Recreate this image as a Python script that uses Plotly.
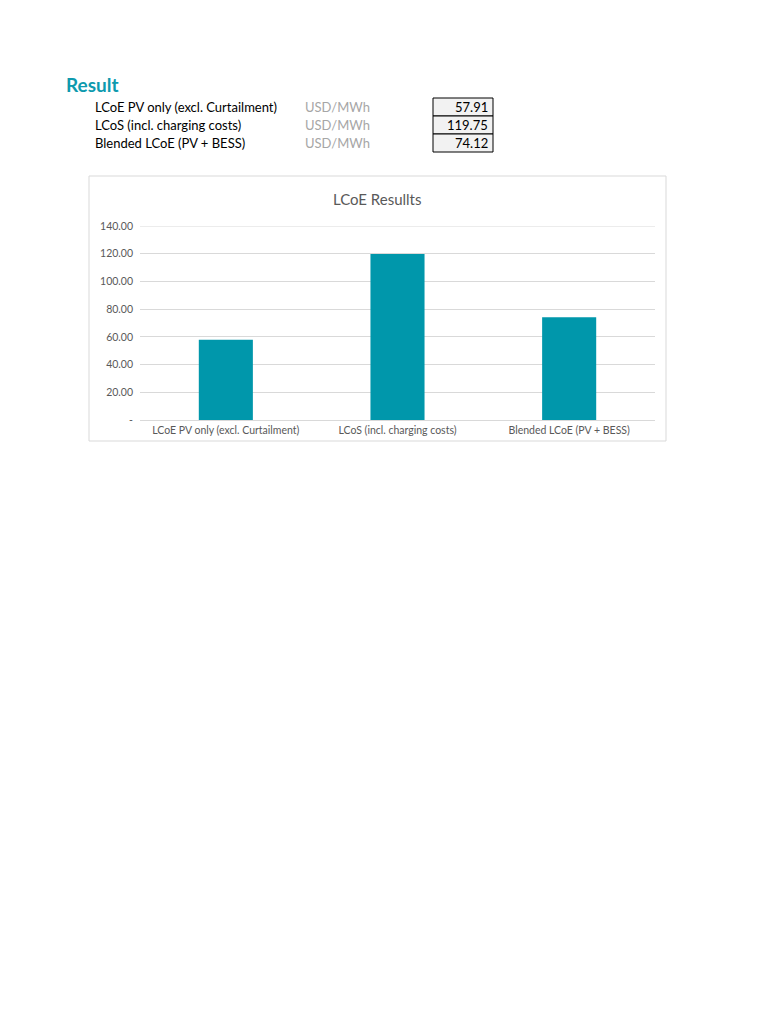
import plotly.graph_objects as go

# data
categories = ["LCoE PV only (excl. Curtailment)", "LCoS (incl. charging costs)", "Blended LCoE (PV + BESS)"]
values = [57.91, 119.75, 74.12]
unit = "USD/MWh"
tick_vals = [0, 20, 40, 60, 80, 100, 120, 140]
tick_text = ["-", "20.00", "40.00", "60.00", "80.00", "100.00", "120.00", "140.00"]

teal = "#0097AB"
grey_txt = "#595959"
OFF = 8  # page margin around the figure
W, H = 768 - 2 * OFF, 1024 - 2 * OFF
L, R, T, B = 140 - OFF, 655 - OFF, 226 - OFF, 420 - OFF  # plot area in pixels


def px(x):
    return (x - OFF - L) / (R - L)


def py(y):
    return (B - (y - OFF)) / (B - T)


fig = go.Figure()
fig.add_trace(go.Bar(
    x=categories,
    y=values,
    marker_color=teal,
    marker_line_width=0,
    hoverinfo="x+y",
))

shapes = [
    # chart border
    dict(type="rect", xref="paper", yref="paper",
         x0=px(89), x1=px(666), y0=py(441), y1=py(176),
         line=dict(color="#D9D9D9", width=1), fillcolor="rgba(0,0,0,0)", layer="below"),
    # top gridline (sits on the plot edge)
    dict(type="line", xref="paper", yref="y", x0=0, x1=1, y0=tick_vals[-1], y1=tick_vals[-1],
         line=dict(color="#D9D9D9", width=1), layer="below"),
]
annotations = [
    dict(text="<b>Result</b>", xref="paper", yref="paper", x=px(64), y=py(84),
         xanchor="left", yanchor="middle", showarrow=False,
         font=dict(size=19, color="#0E9AAE", family="Lato")),
    dict(text="LCoE Resullts", xref="paper", yref="paper", x=px(377), y=py(199),
         xanchor="center", yanchor="middle", showarrow=False,
         font=dict(size=15, color=grey_txt, family="Lato")),
]

row_y = [107, 125, 143]
for i, (cat, val) in enumerate(zip(categories, values)):
    yc = row_y[i]
    annotations.append(dict(text=cat, xref="paper", yref="paper", x=px(93), y=py(yc),
                            xanchor="left", yanchor="middle", showarrow=False,
                            font=dict(size=13, color="black", family="Lato")))
    annotations.append(dict(text=unit, xref="paper", yref="paper", x=px(303), y=py(yc),
                            xanchor="left", yanchor="middle", showarrow=False,
                            font=dict(size=13, color="#A6A6A6", family="Lato")))
    annotations.append(dict(text=f"{val:.2f}", xref="paper", yref="paper", x=px(490), y=py(yc),
                            xanchor="right", yanchor="middle", showarrow=False,
                            font=dict(size=13, color="black", family="Lato")))
    shapes.append(dict(type="rect", xref="paper", yref="paper",
                       x0=px(433), x1=px(493), y0=py(yc + 9), y1=py(yc - 9),
                       line=dict(color="black", width=1), fillcolor="#F2F2F2", layer="below"))

fig.update_layout(
    width=W, height=H,
    margin=dict(l=L, r=W - R, t=T, b=H - B, pad=0),
    paper_bgcolor="white",
    plot_bgcolor="white",
    font=dict(family="Lato", color=grey_txt, size=10.5),
    bargap=0.685,
    showlegend=False,
    shapes=shapes,
    annotations=annotations,
    xaxis=dict(showgrid=False, showline=True, linecolor="#D9D9D9", linewidth=1,
               ticks="", tickfont=dict(size=10.5, color=grey_txt), fixedrange=True),
    yaxis=dict(range=[0, 140], tickvals=tick_vals, ticktext=tick_text,
               showgrid=True, gridcolor="#D9D9D9", gridwidth=1, zeroline=False,
               showline=False, ticks="", ticklabelstandoff=6,
               tickfont=dict(size=10.5, color=grey_txt), fixedrange=True),
)

fig.write_html("out.html")
